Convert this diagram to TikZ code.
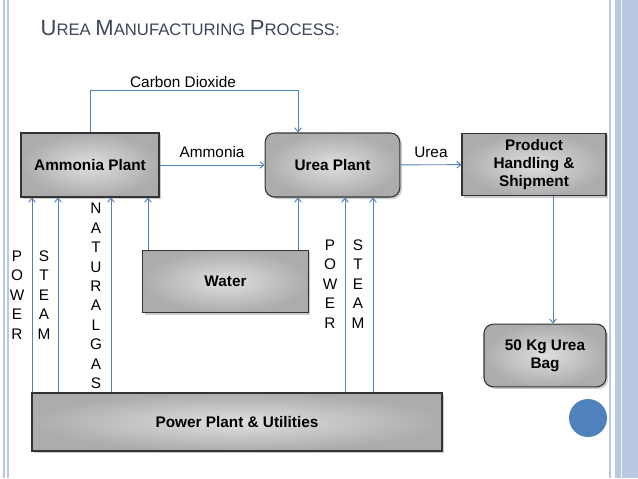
\documentclass[tikz,border=0pt]{standalone}
\usepackage{fontspec}
\setmainfont{Liberation Sans}
\usetikzlibrary{shadows,arrows.meta}
\definecolor{ln}{RGB}{79,129,189}
\definecolor{bord}{RGB}{185,201,226}
\definecolor{ttl}{RGB}{60,70,90}
\begin{document}
\begin{tikzpicture}[x=0.75pt,y=-0.75pt,
 box/.style={draw=black!80,line width=0.8pt,inner color=gray!25,outer color=gray!65,drop shadow={shadow xshift=1.5pt,shadow yshift=-1.5pt,opacity=0.4},font=\bfseries\fontsize{11.5}{13.5}\selectfont,align=center},
 arr/.style={draw=ln,line width=0.7pt,->,>={Straight Barb[length=3pt,width=5pt]}},
 lab/.style={font=\fontsize{11.5}{13.5}\selectfont},
 vt/.style={font=\fontsize{11.5}{14.6}\selectfont,align=center}]
\useasboundingbox (0,0) rectangle (638,478);
\fill[white] (0,0) rectangle (638,478);
\draw[bord,line width=1.2pt] (4,0)--(4,478);
\draw[bord,line width=1pt] (8,0)--(8,478);
\draw[bord,line width=1.2pt] (610,0)--(610,478);
\fill[bord] (615,0) rectangle (638,478);
\draw[white!80!bord,line width=0.6pt] (621,0)--(621,478);
\node[anchor=west,text=ttl] (title) at (36,28) {\fontsize{16.5}{18}\selectfont U\fontsize{12.5}{15}\selectfont REA \fontsize{16.5}{18}\selectfont M\fontsize{12.5}{15}\selectfont ANUFACTURING \fontsize{16.5}{18}\selectfont P\fontsize{12.5}{15}\selectfont ROCESS:};
\node[box,minimum width=103.5pt,minimum height=48pt] (amm) at (90,165) {Ammonia Plant};
\node[box,rounded corners=7pt,minimum width=101pt,minimum height=48pt] (urea) at (332.5,165) {Urea Plant};
\node[box,minimum width=108pt,minimum height=47pt] (prod) at (534,164.5) {Product\\Handling \&\\Shipment};
\node[box,rounded corners=7pt,minimum width=91.5pt,minimum height=47pt] (bag) at (545,355.5) {50 Kg Urea\\Bag};
\node[box,minimum width=124pt,minimum height=47pt] (water) at (225.5,281.5) {Water};
\node[box,minimum width=307.5pt,minimum height=43.5pt] (pp) at (237,422) {Power Plant \& Utilities};
\fill[ln] (588,418) circle (19);
\coordinate (c1) at (90,90); \coordinate (c2) at (298,90);
\draw[arr] (amm.north) -- (c1) -- (c2) -- (urea.north -| c2);
\node[lab] (co2) at (183,82) {Carbon Dioxide};
\draw[arr] (amm) -- (urea) node[lab,midway,above=2pt] {Ammonia};
\draw[arr] (urea) -- (prod) node[lab,midway,above=2pt] {Urea};
\draw[arr] (prod.south -| 553,0) -- (bag.north -| 553,0);
\foreach \x in {32,58,111} \draw[arr] (pp.north -| \x,0) -- (amm.south -| \x,0);
\draw[arr] (water.north -| 148,0) -- (amm.south -| 148,0);
\draw[arr] (water.north -| 298,0) -- (urea.south -| 298,0);
\foreach \x in {345,373} \draw[arr] (pp.north -| \x,0) -- (urea.south -| \x,0);
\node[vt] (p1) at (17,295) {P\\O\\W\\E\\R};
\node[vt] (s1) at (44,295) {S\\T\\E\\A\\M};
\node[vt] (ng) at (96,296) {N\\A\\T\\U\\R\\A\\L\\G\\A\\S};
\node[vt] (p2) at (330,284) {P\\O\\W\\E\\R};
\node[vt] (s2) at (358,284) {S\\T\\E\\A\\M};
\end{tikzpicture}
\end{document}
